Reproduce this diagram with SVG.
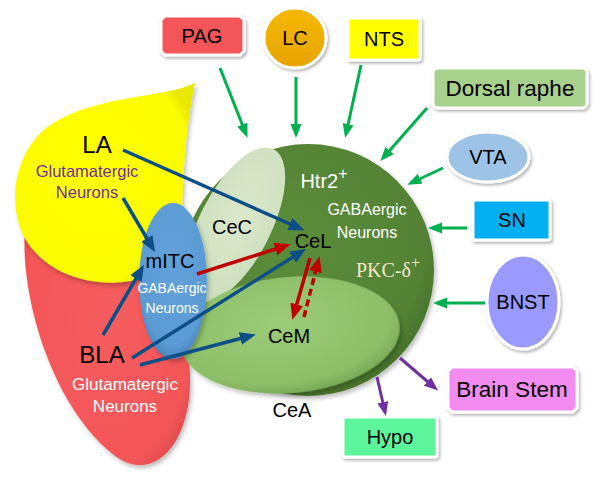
<svg xmlns="http://www.w3.org/2000/svg" width="600" height="481" viewBox="0 0 600 481">
<defs>
<style>
text{font-family:"Liberation Sans","DejaVu Sans",sans-serif;text-anchor:middle}
.lbl{font-size:20px;fill:#000}
.big{font-size:24px;fill:#000}
.wt{fill:#fff}
.node{stroke:#fff;stroke-width:3;filter:url(#sh)}
.g{stroke:#00b050;stroke-width:3;fill:none;marker-end:url(#ag)}
.p{stroke:#7030a0;stroke-width:3;fill:none;marker-end:url(#ap)}
.b{stroke:#0b4f86;stroke-width:3.5;fill:none;marker-end:url(#ab)}
.r{stroke:#c00000;stroke-width:3.5;fill:none;marker-end:url(#ar)}
</style>
<filter id="sh" x="-20%" y="-20%" width="150%" height="150%"><feDropShadow dx="1.5" dy="2" stdDeviation="1.5" flood-color="#000" flood-opacity="0.3"/></filter>
<filter id="sh2" x="-10%" y="-10%" width="130%" height="130%"><feDropShadow dx="2" dy="3" stdDeviation="2" flood-color="#000" flood-opacity="0.25"/></filter>
<marker id="ag" markerUnits="userSpaceOnUse" markerWidth="14" markerHeight="12" refX="10" refY="6" orient="auto"><path d="M0,0.5 L14,6 L0,11.5 z" fill="#00b050"/></marker>
<marker id="ap" markerUnits="userSpaceOnUse" markerWidth="14" markerHeight="12" refX="10" refY="6" orient="auto"><path d="M0,0.5 L14,6 L0,11.5 z" fill="#7030a0"/></marker>
<marker id="ab" markerUnits="userSpaceOnUse" markerWidth="16" markerHeight="14" refX="10" refY="7" orient="auto"><path d="M0,0.5 L16,7 L0,13.5 z" fill="#0b4f86"/></marker>
<marker id="ar" markerUnits="userSpaceOnUse" markerWidth="16" markerHeight="14" refX="10" refY="7" orient="auto"><path d="M0,0.5 L16,7 L0,13.5 z" fill="#c00000"/></marker>
<radialGradient id="gDark" cx="0.45" cy="0.4" r="0.6"><stop offset="0" stop-color="#5b8d3a"/><stop offset="0.85" stop-color="#548235"/><stop offset="1" stop-color="#48742c"/></radialGradient>
<radialGradient id="gCeM" cx="0.45" cy="0.4" r="0.6"><stop offset="0" stop-color="#9bcb77"/><stop offset="0.85" stop-color="#8dbf68"/><stop offset="1" stop-color="#7aab58"/></radialGradient>
<radialGradient id="gCeC" cx="0.5" cy="0.45" r="0.6"><stop offset="0" stop-color="#d9e8cb"/><stop offset="0.85" stop-color="#cfe0bf"/><stop offset="1" stop-color="#b9cfa5"/></radialGradient>
<radialGradient id="gY" cx="0.45" cy="0.45" r="0.6"><stop offset="0" stop-color="#ffff00"/><stop offset="0.9" stop-color="#fcfc00"/><stop offset="1" stop-color="#e8e800"/></radialGradient>
<radialGradient id="gR" cx="0.5" cy="0.5" r="0.6"><stop offset="0" stop-color="#f65c5e"/><stop offset="0.85" stop-color="#f45658"/><stop offset="1" stop-color="#e04a4c"/></radialGradient>
<radialGradient id="gB" cx="0.5" cy="0.4" r="0.6"><stop offset="0" stop-color="#62a0d8"/><stop offset="0.85" stop-color="#5b9bd5"/><stop offset="1" stop-color="#4a86c0"/></radialGradient>
<linearGradient id="gLC" x1="0" y1="0" x2="0" y2="1"><stop offset="0" stop-color="#f5b800"/><stop offset="1" stop-color="#e8a400"/></linearGradient>
</defs>
<rect width="600" height="481" fill="#fff"/>

<g id="BLA">
<path d="M30,200 C10,265 45,405 118,458 C160,485 197,432 189,362 C184,300 176,225 160,180 Z" fill="url(#gR)" filter="url(#sh2)"/>
</g>
<g id="LA">
<path d="M195,83 C165,98 95,95 50,125 C8,155 5,222 35,252 C62,282 112,290 150,276 L182,230 C182,180 186,125 195,83 Z" fill="url(#gY)" filter="url(#sh2)"/>
</g>
<g id="CeA">
<ellipse cx="308" cy="270" rx="126" ry="126" fill="url(#gDark)" filter="url(#sh2)"/>
</g>
<g id="CeC">
<ellipse cx="235" cy="225" rx="36" ry="85" transform="rotate(27 235 225)" fill="url(#gCeC)"/>
</g>
<g id="CeM">
<ellipse cx="290" cy="335" rx="110" ry="58" transform="rotate(-5 290 335)" fill="url(#gCeM)" filter="url(#sh2)"/>
</g>
<g id="mITC">
<ellipse cx="173" cy="281" rx="34" ry="78" fill="url(#gB)" filter="url(#sh2)"/>
</g>

<g id="labels">
<text x="97" y="153" class="big">LA</text>
<text x="87" y="177" style="font-size:16.5px;fill:#7030a0">Glutamatergic</text>
<text x="87" y="198" style="font-size:16.5px;fill:#7030a0">Neurons</text>
<text x="102" y="363" class="big">BLA</text>
<text x="125" y="390" class="wt" style="font-size:17px">Glutamatergic</text>
<text x="125" y="412" class="wt" style="font-size:17px">Neurons</text>
<text x="170" y="268" class="lbl">mITC</text>
<text x="172" y="293" class="wt" style="font-size:14px">GABAergic</text>
<text x="172" y="313" class="wt" style="font-size:14px">Neurons</text>
<text x="232" y="234" class="lbl">CeC</text>
<text x="313" y="248" class="lbl">CeL</text>
<text x="289" y="343" class="lbl">CeM</text>
<text x="292" y="417" class="lbl">CeA</text>
<text x="324" y="188" class="wt" style="font-size:20px">Htr2<tspan dy="-9" style="font-size:16px">+</tspan></text>
<text x="367" y="215" class="wt" style="font-size:16px">GABAergic</text>
<text x="367" y="238" class="wt" style="font-size:16px">Neurons</text>
<text x="388" y="277" style="font-family:'Liberation Serif','DejaVu Serif',serif;font-size:20px;fill:#f2e8c6">PKC-δ<tspan dy="-9" style="font-size:16px">+</tspan></text>
</g>

<g id="PAG">
<path class="node" d="M165,16 L240,16 L244,20 L244,51 L240,55 L165,55 L161,51 L161,20 Z" fill="#f35558"/>
<text x="202" y="43" class="lbl">PAG</text>
</g>
<g id="LC">
<ellipse class="node" cx="295" cy="38" rx="31" ry="30" fill="url(#gLC)"/>
<text x="295" y="45" class="lbl">LC</text>
</g>
<g id="NTS">
<rect class="node" x="348" y="18" width="72" height="42" rx="2" fill="#ffff00"/>
<text x="384" y="46" class="lbl">NTS</text>
</g>
<g id="DorsalRaphe">
<rect class="node" x="433" y="68" width="154" height="40" rx="5" fill="#a9d18e"/>
<text x="510" y="96" style="font-size:22.5px">Dorsal raphe</text>
</g>
<g id="VTA">
<ellipse class="node" cx="488" cy="157" rx="41" ry="25" fill="#9dc3e6"/>
<text x="488" y="164" class="lbl">VTA</text>
</g>
<g id="SN">
<rect class="node" x="473" y="200" width="77" height="40" rx="2" fill="#00b0f0"/>
<text x="512" y="227" class="lbl">SN</text>
</g>
<g id="BNST">
<ellipse class="node" cx="523" cy="302" rx="36" ry="47" fill="#9999ff"/>
<text x="523" y="309" class="lbl">BNST</text>
</g>
<g id="BrainStem">
<path class="node" d="M452,367 L573,367 L577,371 L577,408 L573,412 L452,412 L448,408 L448,371 Z" fill="#f28cf0"/>
<text x="512" y="397" style="font-size:22.5px">Brain Stem</text>
</g>
<g id="Hypo">
<rect class="node" x="343" y="417" width="94" height="40" rx="2" fill="#5df59c"/>
<text x="390" y="444" class="lbl">Hypo</text>
</g>

<g id="connectors">
<path class="g" d="M220,68 L246,134"/>
<path class="g" d="M296,77 L296,134"/>
<path class="g" d="M361,65 L346,134"/>
<path class="g" d="M427,108 L383,158"/>
<path class="g" d="M443,168 L411,183"/>
<path class="g" d="M467,228 L432,228"/>
<path class="g" d="M485,303 L437,303"/>
<path class="p" d="M400,358 L435,388"/>
<path class="p" d="M377,377 L385,412"/>
<path class="b" d="M123,150 L299,228"/>
<path class="b" d="M123,198 L152,247"/>
<path class="b" d="M103,335 L141,270"/>
<path class="b" d="M132,358 L301,252"/>
<path class="b" d="M140,365 L250,336"/>
<path class="r" d="M197,274 L285,246"/>
<path class="r" d="M310,258 L294,314"/>
<path class="r" d="M304,317 L318,262" stroke-dasharray="7 4"/>
</g>
</svg>
